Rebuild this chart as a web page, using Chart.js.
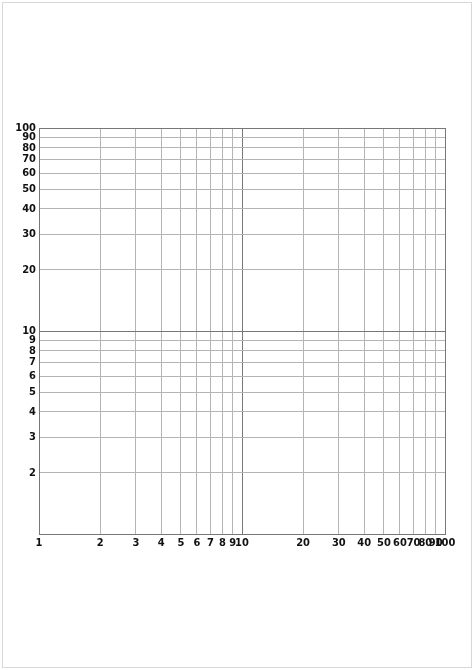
<!DOCTYPE html>
<html>
<head>
<meta charset="utf-8">
<script src="https://cdn.jsdelivr.net/npm/chart.js@4"></script>
<style>
  html, body { margin: 0; padding: 0; background: #fff; }
  #wrap { position: relative; width: 474px; height: 670px; }
  #frame { position: absolute; left: 2px; top: 2px; right: 2px; bottom: 2px; border: 1px solid #d8d8d8; pointer-events: none; }
</style>
</head>
<body>
<div id="wrap">
  <canvas id="grid" width="474" height="670"></canvas>
  <div id="frame"></div>
</div>
<script>
// Log-log grid: tick positions for both axes
const X_TICKS = [1, 2, 3, 4, 5, 6, 7, 8, 9, 10, 20, 30, 40, 50, 60, 70, 80, 90, 100];
const Y_TICKS = [1, 2, 3, 4, 5, 6, 7, 8, 9, 10, 20, 30, 40, 50, 60, 70, 80, 90, 100];
const Y_HIDDEN_LABELS = [1];

const FONT = { family: "'DejaVu Sans Condensed', 'DejaVu Sans'", size: 11, weight: 'bold' };

const gridColor = ctx => (ctx.tick && (ctx.tick.value === 10 || ctx.tick.value === 1 || ctx.tick.value === 100)) ? '#777' : '#b4b4b4';

new Chart(document.getElementById('grid'), {
  type: 'scatter',
  data: { datasets: [{ data: [] }] },
  options: {
    responsive: false,
    animation: false,
    layout: { padding: { top: 128, right: 29, left: 0, bottom: 0 } },
    plugins: { legend: { display: false }, tooltip: { enabled: false } },
    scales: {
      x: {
        type: 'logarithmic', min: 1, max: 100,
        afterBuildTicks: s => { s.ticks = X_TICKS.map(v => ({ value: v })); },
        afterFit: s => { s.height = 136; },
        grid: { color: gridColor, lineWidth: 1, drawTicks: false },
        border: { color: '#777' },
        ticks: { color: '#111', font: FONT, padding: 3, maxRotation: 0, autoSkip: false,
                 callback: v => String(v) },
      },
      y: {
        type: 'logarithmic', min: 1, max: 100,
        afterBuildTicks: s => { s.ticks = Y_TICKS.map(v => ({ value: v })); },
        afterFit: s => { s.width = 39; },
        grid: { color: gridColor, lineWidth: 1, drawTicks: false },
        border: { color: '#777' },
        ticks: { color: '#111', font: FONT, padding: 3, autoSkip: false,
                 callback: v => Y_HIDDEN_LABELS.includes(v) ? '' : String(v) },
      },
    },
  },
});
</script>
</body>
</html>
